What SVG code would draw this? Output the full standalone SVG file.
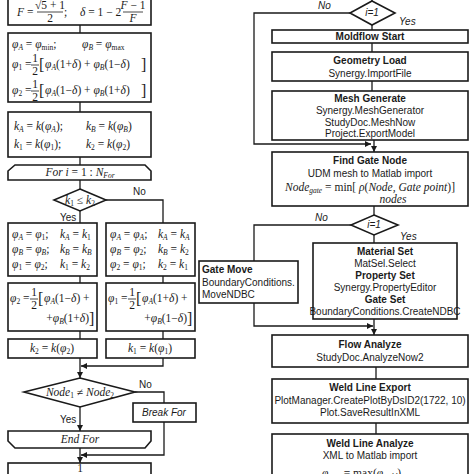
<svg xmlns="http://www.w3.org/2000/svg" width="474" height="474" viewBox="0 0 474 474">
<defs>
<marker id="ah" viewBox="0 0 8 8" refX="8" refY="4" markerWidth="6" markerHeight="6" orient="auto" markerUnits="userSpaceOnUse">
<path d="M0,0 L8,4 L0,8 z" fill="#1a1a1a"/>
</marker>
<style>
.box{fill:#fff;stroke:#1a1a1a;stroke-width:1.6}
.ln{fill:none;stroke:#1a1a1a;stroke-width:1.3}
.m{font-family:"Liberation Serif","Times New Roman",serif;font-style:italic;font-size:11.5px;fill:#1a1a1a}
.u{font-style:normal}
.sb{font-size:7.5px}
.s{font-family:"Liberation Sans",Arial,sans-serif;font-size:10px;fill:#1a1a1a}
.b{font-weight:bold}
.i{font-style:italic}
.c{text-anchor:middle}
.br{font-size:16px;font-style:normal}
.bar{stroke:#1a1a1a;stroke-width:0.8}
</style>
</defs>
<rect width="474" height="474" fill="#fff"/>

<g id="connectors">
<line class="ln" x1="80" y1="25" x2="80" y2="33"/>
<line class="ln" x1="80" y1="102" x2="80" y2="112"/>
<line class="ln" x1="80" y1="157" x2="80" y2="165"/>
<line class="ln" x1="80" y1="180" x2="80" y2="189"/>
<polyline class="ln" points="106,200 163,200 163,223"/>
<line class="ln" x1="80" y1="211" x2="80" y2="223"/>
<line class="ln" x1="80" y1="276" x2="80" y2="283"/>
<line class="ln" x1="163" y1="276" x2="163" y2="283"/>
<line class="ln" x1="80" y1="331" x2="80" y2="339"/>
<line class="ln" x1="163" y1="331" x2="163" y2="339"/>
<polyline class="ln" points="163,358 163,366 81,366" marker-end="url(#ah)"/>
<line class="ln" x1="80" y1="358" x2="80" y2="378" marker-end="url(#ah)"/>
<polyline class="ln" points="135,392 164,392 164,403"/>
<polyline class="ln" points="164,422 164,455 81,455" marker-end="url(#ah)"/>
<line class="ln" x1="80" y1="407" x2="80" y2="431" marker-end="url(#ah)"/>
<line class="ln" x1="80" y1="448" x2="80" y2="463" marker-end="url(#ah)"/>
<line class="ln" x1="372" y1="-2" x2="372" y2="1"/>
<polyline class="ln" points="350,13 254,13 254,144 371,144" marker-end="url(#ah)"/>
<line class="ln" x1="372" y1="25" x2="372" y2="30"/>
<line class="ln" x1="372" y1="43" x2="372" y2="52"/>
<line class="ln" x1="372" y1="81" x2="372" y2="91"/>
<line class="ln" x1="374" y1="140" x2="374" y2="152" marker-end="url(#ah)"/>
<line class="ln" x1="374" y1="206" x2="374" y2="215"/>
<polyline class="ln" points="351,225 254,225 254,261"/>
<polyline class="ln" points="254,303 254,326 373,326" marker-end="url(#ah)"/>
<line class="ln" x1="374" y1="235" x2="374" y2="243"/>
<line class="ln" x1="374" y1="319" x2="374" y2="335" marker-end="url(#ah)"/>
<line class="ln" x1="376" y1="367" x2="376" y2="379"/>
<line class="ln" x1="376" y1="423" x2="376" y2="434"/>
</g>

<g id="labels">
<text class="s" x="133" y="195">No</text>
<text class="s" x="60" y="221">Yes</text>
<text class="s" x="139" y="388">No</text>
<text class="s" x="60" y="423">Yes</text>
<text class="s i" x="318" y="9">No</text>
<text class="s i" x="399" y="25">Yes</text>
<text class="s i" x="315" y="221">No</text>
<text class="s i" x="400" y="240">Yes</text>
</g>

<g id="n_golden">
<rect class="box" x="8" y="-2" width="143" height="27"/>
<text class="m" x="17" y="16">F<tspan class="u"> =</tspan></text>
<text class="m u c" x="50" y="9">√5 + 1</text>
<line class="bar" x1="37" y1="12" x2="63" y2="12"/>
<text class="m u c" x="50" y="22">2</text>
<text class="m u" x="64" y="16">;</text>
<text class="m" x="80" y="16">δ<tspan class="u"> = 1 − 2</tspan></text>
<text class="m c" x="133" y="9">F<tspan class="u"> − 1</tspan></text>
<line class="bar" x1="123" y1="12" x2="143" y2="12"/>
<text class="m c" x="133" y="22">F</text>
</g>

<g id="n_init">
<rect class="box" x="8" y="33" width="143" height="69"/>
<text class="m" x="12" y="48">φ<tspan class="sb" dy="2">A</tspan><tspan dy="-2" class="u"> = </tspan>φ<tspan class="sb u" dy="2">min</tspan><tspan dy="-2" class="u">;</tspan></text>
<text class="m" x="82" y="48">φ<tspan class="sb" dy="2">B</tspan><tspan dy="-2" class="u"> = </tspan>φ<tspan class="sb u" dy="2">max</tspan></text>
<text class="m" x="12" y="68">φ<tspan class="sb u" dy="2">1</tspan><tspan dy="-2" class="u"> =</tspan></text>
<text class="m u c" x="35" y="62">1</text><line class="bar" x1="31" y1="65" x2="39" y2="65"/><text class="m u c" x="35" y="75">2</text>
<text class="m br" x="39" y="70">[</text>
<text class="m" x="45" y="68">φ<tspan class="sb" dy="2">A</tspan><tspan dy="-2" class="u">(1+</tspan>δ<tspan class="u">) + </tspan>φ<tspan class="sb" dy="2">B</tspan><tspan dy="-2" class="u">(1−</tspan>δ<tspan class="u">)</tspan></text>
<text class="m br" x="141" y="70">]</text>
<text class="m" x="12" y="94">φ<tspan class="sb u" dy="2">2</tspan><tspan dy="-2" class="u"> =</tspan></text>
<text class="m u c" x="35" y="88">1</text><line class="bar" x1="31" y1="91" x2="39" y2="91"/><text class="m u c" x="35" y="101">2</text>
<text class="m br" x="39" y="96">[</text>
<text class="m" x="45" y="94">φ<tspan class="sb" dy="2">A</tspan><tspan dy="-2" class="u">(1−</tspan>δ<tspan class="u">) + </tspan>φ<tspan class="sb" dy="2">B</tspan><tspan dy="-2" class="u">(1+</tspan>δ<tspan class="u">)</tspan></text>
<text class="m br" x="141" y="96">]</text>
</g>

<g id="n_kvals">
<rect class="box" x="8" y="112" width="143" height="45"/>
<text class="m" x="14" y="130">k<tspan class="sb" dy="2">A</tspan><tspan dy="-2" class="u"> = </tspan>k<tspan class="u">(</tspan>φ<tspan class="sb" dy="2">A</tspan><tspan dy="-2" class="u">);</tspan></text>
<text class="m" x="86" y="130">k<tspan class="sb" dy="2">B</tspan><tspan dy="-2" class="u"> = </tspan>k<tspan class="u">(</tspan>φ<tspan class="sb" dy="2">B</tspan><tspan dy="-2" class="u">)</tspan></text>
<text class="m" x="14" y="148">k<tspan class="sb u" dy="2">1</tspan><tspan dy="-2" class="u"> = </tspan>k<tspan class="u">(</tspan>φ<tspan class="sb u" dy="2">1</tspan><tspan dy="-2" class="u">);</tspan></text>
<text class="m" x="86" y="148">k<tspan class="sb u" dy="2">2</tspan><tspan dy="-2" class="u"> = </tspan>k<tspan class="u">(</tspan>φ<tspan class="sb u" dy="2">2</tspan><tspan dy="-2" class="u">)</tspan></text>
</g>

<g id="n_for">
<polygon class="box" points="15,165 145,165 151,171 151,180 8,180 8,171"/>
<text class="m c" x="80" y="176">For  i<tspan class="u"> = 1 : </tspan>N<tspan class="sb" dy="2">For</tspan></text>
</g>

<g id="n_cmp">
<polygon class="box" points="80,189 106,200 80,211 54,200"/>
<text class="m c" x="80" y="204">k<tspan class="sb u" dy="2">1</tspan><tspan dy="-2" class="u"> ≤ </tspan>k<tspan class="sb u" dy="2">2</tspan></text>
</g>

<g id="n_yes_assign">
<rect class="box" x="8" y="223" width="89" height="53"/>
<text class="m" x="12" y="238">φ<tspan class="sb" dy="2">A</tspan><tspan dy="-2" class="u"> = </tspan>φ<tspan class="sb u" dy="2">1</tspan><tspan dy="-2" class="u">;</tspan></text>
<text class="m" x="60" y="238">k<tspan class="sb" dy="2">A</tspan><tspan dy="-2" class="u"> = </tspan>k<tspan class="sb u" dy="2">1</tspan></text>
<text class="m" x="12" y="253">φ<tspan class="sb" dy="2">B</tspan><tspan dy="-2" class="u"> = </tspan>φ<tspan class="sb" dy="2">B</tspan><tspan dy="-2" class="u">;</tspan></text>
<text class="m" x="60" y="253">k<tspan class="sb" dy="2">B</tspan><tspan dy="-2" class="u"> = </tspan>k<tspan class="sb" dy="2">B</tspan></text>
<text class="m" x="12" y="268">φ<tspan class="sb u" dy="2">1</tspan><tspan dy="-2" class="u"> = </tspan>φ<tspan class="sb u" dy="2">2</tspan><tspan dy="-2" class="u">;</tspan></text>
<text class="m" x="60" y="268">k<tspan class="sb u" dy="2">1</tspan><tspan dy="-2" class="u"> = </tspan>k<tspan class="sb u" dy="2">2</tspan></text>
</g>

<g id="n_no_assign">
<rect class="box" x="106" y="223" width="89" height="53"/>
<text class="m" x="110" y="238">φ<tspan class="sb" dy="2">A</tspan><tspan dy="-2" class="u"> = </tspan>φ<tspan class="sb" dy="2">A</tspan><tspan dy="-2" class="u">;</tspan></text>
<text class="m" x="158" y="238">k<tspan class="sb" dy="2">A</tspan><tspan dy="-2" class="u"> = </tspan>k<tspan class="sb" dy="2">A</tspan></text>
<text class="m" x="110" y="253">φ<tspan class="sb" dy="2">B</tspan><tspan dy="-2" class="u"> = </tspan>φ<tspan class="sb u" dy="2">2</tspan><tspan dy="-2" class="u">;</tspan></text>
<text class="m" x="158" y="253">k<tspan class="sb" dy="2">B</tspan><tspan dy="-2" class="u"> = </tspan>k<tspan class="sb u" dy="2">2</tspan></text>
<text class="m" x="110" y="268">φ<tspan class="sb u" dy="2">2</tspan><tspan dy="-2" class="u"> = </tspan>φ<tspan class="sb u" dy="2">1</tspan><tspan dy="-2" class="u">;</tspan></text>
<text class="m" x="158" y="268">k<tspan class="sb u" dy="2">2</tspan><tspan dy="-2" class="u"> = </tspan>k<tspan class="sb u" dy="2">1</tspan></text>
</g>

<g id="n_phi2">
<rect class="box" x="8" y="283" width="89" height="48"/>
<text class="m" x="10" y="302">φ<tspan class="sb u" dy="2">2</tspan><tspan dy="-2" class="u"> =</tspan></text>
<text class="m u c" x="34" y="296">1</text><line class="bar" x1="30" y1="299" x2="38" y2="299"/><text class="m u c" x="34" y="309">2</text>
<text class="m br" x="38" y="304">[</text>
<text class="m" x="44" y="302">φ<tspan class="sb" dy="2">A</tspan><tspan dy="-2" class="u">(1−</tspan>δ<tspan class="u">) +</tspan></text>
<text class="m" x="89" y="322" text-anchor="end"><tspan class="u">+</tspan>φ<tspan class="sb" dy="2">B</tspan><tspan dy="-2" class="u">(1+</tspan>δ<tspan class="u">)</tspan></text>
<text class="m br" x="89" y="324">]</text>
</g>

<g id="n_phi1">
<rect class="box" x="106" y="283" width="89" height="48"/>
<text class="m" x="108" y="302">φ<tspan class="sb u" dy="2">1</tspan><tspan dy="-2" class="u"> =</tspan></text>
<text class="m u c" x="132" y="296">1</text><line class="bar" x1="128" y1="299" x2="136" y2="299"/><text class="m u c" x="132" y="309">2</text>
<text class="m br" x="136" y="304">[</text>
<text class="m" x="142" y="302">φ<tspan class="sb" dy="2">A</tspan><tspan dy="-2" class="u">(1+</tspan>δ<tspan class="u">) +</tspan></text>
<text class="m" x="187" y="322" text-anchor="end"><tspan class="u">+</tspan>φ<tspan class="sb" dy="2">B</tspan><tspan dy="-2" class="u">(1−</tspan>δ<tspan class="u">)</tspan></text>
<text class="m br" x="187" y="324">]</text>
</g>

<g id="n_k2">
<rect class="box" x="8" y="339" width="89" height="19"/>
<text class="m c" x="52" y="352">k<tspan class="sb u" dy="2">2</tspan><tspan dy="-2" class="u"> = </tspan>k<tspan class="u">(</tspan>φ<tspan class="sb u" dy="2">2</tspan><tspan dy="-2" class="u">)</tspan></text>
</g>

<g id="n_k1">
<rect class="box" x="106" y="339" width="89" height="19"/>
<text class="m c" x="150" y="352">k<tspan class="sb u" dy="2">1</tspan><tspan dy="-2" class="u"> = </tspan>k<tspan class="u">(</tspan>φ<tspan class="sb u" dy="2">1</tspan><tspan dy="-2" class="u">)</tspan></text>
</g>

<g id="n_node">
<polygon class="box" points="80,378 135,392 80,407 24,392"/>
<text class="m c" x="80" y="396">Node<tspan class="sb u" dy="2">1</tspan><tspan dy="-2" class="u"> ≠ </tspan>Node<tspan class="sb u" dy="2">2</tspan></text>
</g>

<g id="n_break">
<rect class="box" x="133" y="403" width="63" height="19"/>
<text class="s i c" x="164" y="416" font-size="10.5">Break For</text>
</g>

<g id="n_endfor">
<polygon class="box" points="8,431 151,431 151,441 145,448 15,448 8,441"/>
<text class="m c" x="80" y="443">End For</text>
</g>

<g id="n_result">
<rect class="box" x="8" y="463" width="143" height="20"/>
<text class="m u c" x="80" y="472">1</text>
<text class="m" x="84" y="484" font-size="13"><tspan class="u">(</tspan>φ<tspan class="sb" dy="2">A</tspan><tspan dy="-2" class="u"> + </tspan>φ<tspan class="sb" dy="2">B</tspan><tspan dy="-2" class="u">)</tspan></text>
</g>

<g id="r_i1_top">
<polygon class="box" points="372,1 395,13 372,25 350,13"/>
<text class="s i c" x="372" y="16" font-size="9">i=1</text>
</g>

<g id="r_start">
<rect class="box" x="272" y="30" width="196" height="13"/>
<text class="s b c" x="370" y="40">Moldflow Start</text>
</g>

<g id="r_geom">
<rect class="box" x="272" y="52" width="196" height="29"/>
<text class="s b c" x="370" y="64">Geometry Load</text>
<text class="s c" x="370" y="77">Synergy.ImportFile</text>
</g>

<g id="r_mesh">
<rect class="box" x="272" y="91" width="196" height="49"/>
<text class="s b c" x="370" y="102">Mesh Generate</text>
<text class="s c" x="370" y="114">Synergy.MeshGenerator</text>
<text class="s c" x="370" y="125.5">StudyDoc.MeshNow</text>
<text class="s c" x="370" y="137">Project.ExportModel</text>
</g>

<g id="r_gate">
<rect class="box" x="272" y="152" width="196" height="54"/>
<text class="s b c" x="370" y="164">Find Gate Node</text>
<text class="s c" x="370" y="177">UDM mesh to Matlab import</text>
<text class="m c" x="370" y="191" font-size="12">Node<tspan class="sb" dy="2">gate</tspan><tspan dy="-2" class="u"> = min[ </tspan>ρ<tspan class="u">(</tspan>Node, Gate point<tspan class="u">)]</tspan></text>
<text class="m c" x="393" y="203" font-size="6">nodes</text>
</g>

<g id="r_i1">
<polygon class="box" points="374,215 398,225 374,235 351,225"/>
<text class="s i c" x="374" y="228" font-size="9">i=1</text>
</g>

<g id="r_gatemove">
<rect class="box" x="199" y="261" width="99" height="42"/>
<text class="s b" x="202" y="273">Gate Move</text>
<text class="s" x="202" y="286">BoundaryConditions.</text>
<text class="s" x="202" y="298">MoveNDBC</text>
</g>

<g id="r_material">
<rect class="box" x="313" y="243" width="144" height="76"/>
<text class="s b c" x="385" y="255">Material Set</text>
<text class="s c" x="385" y="267">MatSel.Select</text>
<text class="s b c" x="385" y="279">Property Set</text>
<text class="s c" x="385" y="291">Synergy.PropertyEditor</text>
<text class="s b c" x="385" y="303">Gate Set</text>
<text class="s c" x="385" y="315" font-size="9.4">BoundaryConditions.CreateNDBC</text>
</g>

<g id="r_flow">
<rect class="box" x="272" y="335" width="196" height="32"/>
<text class="s b c" x="370" y="348">Flow Analyze</text>
<text class="s c" x="370" y="361">StudyDoc.AnalyzeNow2</text>
</g>

<g id="r_weldexp">
<rect class="box" x="272" y="379" width="196" height="44"/>
<text class="s b c" x="370" y="391">Weld Line Export</text>
<text class="s c" x="370" y="403.5">PlotManager.CreatePlotByDsID2(1722, 10)</text>
<text class="s c" x="370" y="416">Plot.SaveResultInXML</text>
</g>

<g id="r_weldana">
<rect class="box" x="272" y="434" width="196" height="50"/>
<text class="s b c" x="370" y="447">Weld Line Analyze</text>
<text class="s c" x="370" y="459">XML to Matlab import</text>
<text class="m" x="322" y="477" font-size="12">φ<tspan class="sb" dy="2">max</tspan><tspan dy="-2" class="u"> = max(</tspan>φ<tspan class="sb" dy="2">weld</tspan><tspan dy="-2" class="u">)</tspan></text>
</g>
</svg>
